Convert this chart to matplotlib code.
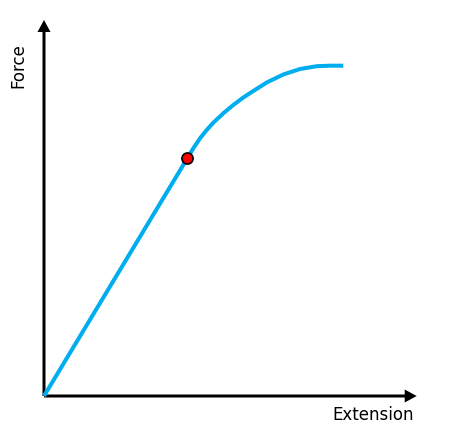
import matplotlib
matplotlib.use("Agg")
import matplotlib.pyplot as plt

# ==========================
# data
# ==========================

extension = [0, 143.3, 149.3, 156, 162.7, 169.3, 179.3, 189.3, 199.3,
             209.3, 222.7, 239.3, 256, 272.7, 286, 299.3]
force = [0, 237.7, 247.7, 257.7, 266, 273.3, 282.7, 291, 298.5,
         305, 313.5, 321.5, 327, 329.8, 330.3, 330.3]

limit_point = (143.3, 237.7)

x_axis_end = 372.7
y_axis_end = 376

# ==========================
# figure
# ==========================

fig = plt.figure(figsize=(4.74, 4.38), dpi=100)
ax = fig.add_axes([0, 0, 1, 1])
ax.set_xlim(-44, 430)
ax.set_ylim(-42, 396)
ax.axis("off")

# axes with arrow heads
ax.arrow(0, 0, x_axis_end, 0, width=3, head_width=13, head_length=12,
         length_includes_head=True, fc="black", ec="black", lw=0, zorder=2)
ax.arrow(0, 0, 0, y_axis_end, width=3, head_width=13, head_length=12,
         length_includes_head=True, fc="black", ec="black", lw=0, zorder=2)

# curve
ax.plot(extension, force, color="#00AEEF", lw=2.9,
        solid_capstyle="butt", solid_joinstyle="round", zorder=3)

ax.plot(*limit_point, "o", color="red", markeredgecolor="black",
        markeredgewidth=1.2, markersize=8, zorder=4)

# labels
ax.text(-26, 330, "Force", rotation=90, fontsize=12,
        ha="center", va="center")
ax.text(370, -19, "Extension", fontsize=12, ha="right", va="center")

fig.savefig("out.png", dpi=100)
